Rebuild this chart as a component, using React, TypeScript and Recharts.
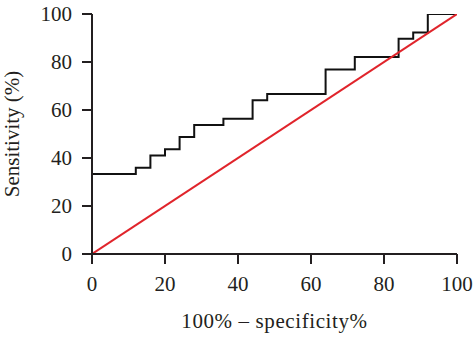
import React from "react";
import { LineChart, Line, XAxis, YAxis } from "recharts";

// ROC curve: false positive rate (100% - specificity) against sensitivity
const fprSteps = [0, 12, 16, 20, 24, 28, 36, 44, 48, 64, 72, 84, 88, 92, 100];
const sensitivity = [33.3, 35.9, 41.0, 43.6, 48.7, 53.8, 56.4, 64.1, 66.7, 76.9, 82.1, 89.7, 92.3, 100, 100];

// Chance line endpoints
const chanceX = [0, 100];
const chanceY = [0, 100];

const xTicks = [0, 20, 40, 60, 80, 100];
const yTicks = [0, 20, 40, 60, 80, 100];

const rocData = fprSteps.map((x, i) => ({ x, roc: sensitivity[i] }));
const chanceData = chanceX.map((x, i) => ({ x, chance: chanceY[i] }));

const FONT = "'Liberation Serif', 'Times New Roman', serif";
const INK = "#231f20";

const tickStyle = { fontFamily: FONT, fontSize: 21, fill: INK };

export default function App() {
  return (
    <div style={{ position: "absolute", left: 0, top: 0 }}>
      <LineChart
        width={474}
        height={339}
        margin={{ top: 14, right: 17, bottom: 25, left: 12 }}
      >
        <XAxis
          type="number"
          dataKey="x"
          domain={[0, 100]}
          ticks={xTicks}
          interval={0}
          allowDataOverflow
          height={60}
          stroke={INK}
          strokeWidth={2}
          tickSize={10}
          tickMargin={12}
          tick={tickStyle}
          tickLine={{ stroke: INK, strokeWidth: 2 }}
          label={{
            content: (props: any) => {
              const vb = props.viewBox;
              return (
                <text
                  x={vb.x + vb.width / 2}
                  y={vb.y + 74}
                  textAnchor="middle"
                  style={{ fontFamily: FONT, fontSize: 21, fill: INK, letterSpacing: 0.6 }}
                >
                  100% – specificity%
                </text>
              );
            },
          }}
        />
        <YAxis
          type="number"
          domain={[0, 100]}
          ticks={yTicks}
          interval={0}
          allowDataOverflow
          width={80}
          stroke={INK}
          strokeWidth={2}
          tickSize={10}
          tickMargin={10}
          tick={tickStyle}
          tickLine={{ stroke: INK, strokeWidth: 2 }}
          label={{
            content: (props: any) => {
              const vb = props.viewBox;
              const cx = 19;
              const cy = vb.y + vb.height / 2;
              return (
                <text
                  x={cx}
                  y={cy}
                  textAnchor="middle"
                  transform={`rotate(-90, ${cx}, ${cy})`}
                  style={{ fontFamily: FONT, fontSize: 21, fill: INK }}
                >
                  Sensitivity (%)
                </text>
              );
            },
          }}
        />
        <Line
          data={rocData}
          dataKey="roc"
          type="stepAfter"
          stroke="#111111"
          strokeWidth={2}
          dot={false}
          activeDot={false}
          isAnimationActive={false}
        />
        <Line
          data={chanceData}
          dataKey="chance"
          type="linear"
          stroke="#e0242b"
          strokeWidth={2}
          dot={false}
          activeDot={false}
          isAnimationActive={false}
        />
      </LineChart>
    </div>
  );
}
